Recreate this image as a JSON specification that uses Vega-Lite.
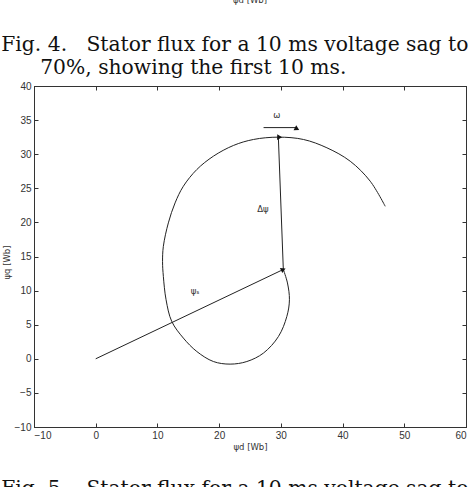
{
  "$schema": "https://vega.github.io/schema/vega-lite/v6.json",
  "width": 432,
  "height": 341,
  "autosize": {"type": "none"},
  "padding": {"left": 34, "top": 86, "right": 8, "bottom": 60},
  "background": "white",
  "config": {
    "view": {"stroke": "#333", "strokeWidth": 1},
    "axis": {
      "grid": false,
      "domainColor": "#333",
      "tickColor": "#333",
      "labelColor": "#333",
      "titleColor": "#333",
      "labelFont": "Liberation Sans",
      "titleFont": "DejaVu Sans",
      "labelFontSize": 10,
      "titleFontSize": 8.5,
      "titleFontWeight": "normal",
      "tickSize": -4,
      "labelPadding": 7
    }
  },
  "datasets": {
    "curve": [
      {"i": 0, "x": 30.4, "y": 13.1},
      {"i": 1, "x": 31.07, "y": 11.12},
      {"i": 2, "x": 31.39, "y": 8.66},
      {"i": 3, "x": 30.97, "y": 6.21},
      {"i": 4, "x": 29.61, "y": 3.27},
      {"i": 5, "x": 27.18, "y": 0.84},
      {"i": 6, "x": 24.49, "y": -0.4},
      {"i": 7, "x": 21.78, "y": -0.78},
      {"i": 8, "x": 19.07, "y": -0.4},
      {"i": 9, "x": 16.38, "y": 1.07},
      {"i": 10, "x": 14.2, "y": 3.04},
      {"i": 11, "x": 12.32, "y": 5.48},
      {"i": 12, "x": 11.4, "y": 8.66},
      {"i": 13, "x": 10.96, "y": 12.09},
      {"i": 14, "x": 10.83, "y": 14.24},
      {"i": 15, "x": 10.96, "y": 16.49},
      {"i": 16, "x": 11.77, "y": 19.93},
      {"i": 17, "x": 12.86, "y": 22.86},
      {"i": 18, "x": 14.2, "y": 25.3},
      {"i": 19, "x": 16.38, "y": 27.75},
      {"i": 20, "x": 19.07, "y": 29.71},
      {"i": 21, "x": 22.31, "y": 31.28},
      {"i": 22, "x": 25.56, "y": 32.16},
      {"i": 23, "x": 29.61, "y": 32.5},
      {"i": 24, "x": 33.66, "y": 32.16},
      {"i": 25, "x": 37.46, "y": 30.94},
      {"i": 26, "x": 41.24, "y": 28.97},
      {"i": 27, "x": 44.48, "y": 26.04},
      {"i": 28, "x": 46.91, "y": 22.36}
    ],
    "arrows": [
      {"arrow": "psi_s", "i": 0, "x": 0, "y": 0},
      {"arrow": "psi_s", "i": 1, "x": 30.4, "y": 13.1},
      {"arrow": "dpsi", "i": 0, "x": 30.4, "y": 13.1},
      {"arrow": "dpsi", "i": 1, "x": 29.6, "y": 32.4},
      {"arrow": "omega", "i": 0, "x": 27.2, "y": 33.9},
      {"arrow": "omega", "i": 1, "x": 32.5, "y": 33.9}
    ],
    "labels": [
      {"label": "ω", "x": 29.35, "y": 35.8},
      {"label": "Δψ", "x": 27.1, "y": 21.9},
      {"label": "ψₛ", "x": 16.1, "y": 9.9}
    ],
    "topnote": [
      {"label": "ψd [Wb]", "x": 25, "y": 52.2}
    ],
    "captions": [
      {"label": "Fig. 4.\u00a0\u00a0\u00a0Stator flux for a 10 ms voltage sag to", "x": -15.3, "y": 45.2},
      {"label": "70%, showing the first 10 ms.", "x": -9.0, "y": 41.8},
      {"label": "Fig. 5.\u00a0\u00a0\u00a0Stator flux for a 10 ms voltage sag to", "x": -15.3, "y": -19.9}
    ]
  },
  "resolve": {"axis": {"x": "independent", "y": "independent"}},
  "layer": [
    {
      "data": {"name": "curve"},
      "mark": {"type": "line", "interpolate": "catmull-rom", "color": "#222", "strokeWidth": 1},
      "encoding": {
        "x": {
          "field": "x", "type": "quantitative",
          "scale": {"domain": [-10, 60], "nice": false},
          "axis": {"values": [-10, 0, 10, 20, 30, 40, 50, 60], "title": "ψd [Wb]", "titlePadding": 2}
        },
        "y": {
          "field": "y", "type": "quantitative",
          "scale": {"domain": [-10, 40], "nice": false},
          "axis": {"values": [-10, -5, 0, 5, 10, 15, 20, 25, 30, 35, 40], "title": "ψq [Wb]", "titlePadding": 3, "titleY": 176}
        },
        "order": {"field": "i", "type": "quantitative"}
      }
    },
    {
      "data": {"name": "arrows"},
      "mark": {"type": "line", "color": "#222", "strokeWidth": 1},
      "encoding": {
        "x": {
          "field": "x", "type": "quantitative",
          "axis": {"orient": "top", "values": [-10, 0, 10, 20, 30, 40, 50, 60], "labels": false, "title": null}
        },
        "y": {
          "field": "y", "type": "quantitative",
          "axis": {"orient": "right", "values": [-10, -5, 0, 5, 10, 15, 20, 25, 30, 35, 40], "labels": false, "title": null}
        },
        "detail": {"field": "arrow"},
        "order": {"field": "i", "type": "quantitative"}
      }
    },
    {
      "data": {"name": "arrows"},
      "transform": [{"filter": "datum.i == 1"}],
      "mark": {"type": "point", "shape": "triangle-up", "filled": true, "color": "#111", "size": 32, "opacity": 1},
      "encoding": {
        "x": {"field": "x", "type": "quantitative", "axis": null},
        "y": {"field": "y", "type": "quantitative", "axis": null},
        "angle": {
          "field": "arrow", "type": "nominal",
          "scale": {"domain": ["psi_s", "dpsi", "omega"], "range": [64.8, 357.8, 90]},
          "legend": null
        }
      }
    },
    {
      "data": {"name": "labels"},
      "mark": {"type": "text", "font": "DejaVu Sans", "fontSize": 8.5, "color": "#333"},
      "encoding": {
        "x": {"field": "x", "type": "quantitative", "axis": null},
        "y": {"field": "y", "type": "quantitative", "axis": null},
        "text": {"field": "label"}
      }
    },
    {
      "data": {"name": "topnote"},
      "mark": {"type": "text", "font": "DejaVu Sans", "fontSize": 8.5, "color": "#333", "baseline": "alphabetic"},
      "encoding": {
        "x": {"field": "x", "type": "quantitative", "axis": null},
        "y": {"field": "y", "type": "quantitative", "axis": null},
        "text": {"field": "label"}
      }
    },
    {
      "data": {"name": "captions"},
      "mark": {"type": "text", "font": "DejaVu Serif", "fontSize": 20.3, "color": "#111", "align": "left", "baseline": "alphabetic"},
      "encoding": {
        "x": {"field": "x", "type": "quantitative", "axis": null},
        "y": {"field": "y", "type": "quantitative", "axis": null},
        "text": {"field": "label"}
      }
    }
  ]
}
